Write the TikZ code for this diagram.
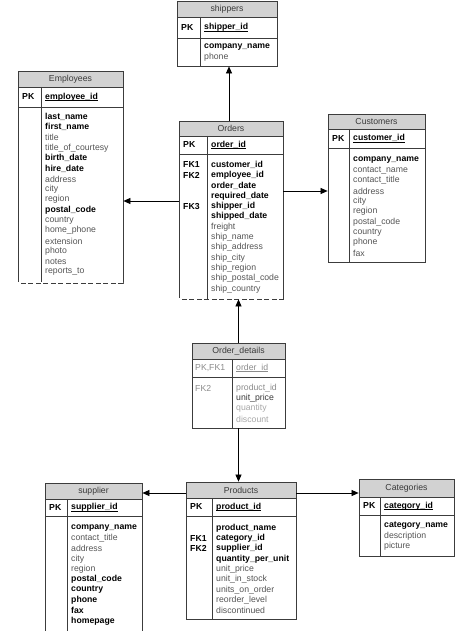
\documentclass[tikz,border=0pt]{standalone}
\usepackage{fontspec}
\setmainfont{Liberation Sans}
\usetikzlibrary{arrows.meta,fit}
\definecolor{hdrfill}{HTML}{D2D2D2}
\definecolor{bordercol}{HTML}{3C3C3C}
\definecolor{txtgray}{HTML}{555555}
\definecolor{hdrtxt}{HTML}{3A3A3A}
\definecolor{odlight}{HTML}{A8A8A8}
\definecolor{odmid}{HTML}{8C8C8C}
\definecolor{oddark}{HTML}{3A3A3A}
\newcommand{\fsz}{\fontsize{8.7}{10}\selectfont}
\newcommand{\pkul}[1]{\underline{\smash{#1}}\vphantom{#1}}
\newcommand{\erTable}[9]{%
  \fill[hdrfill] (#2,#5) rectangle (#4,#6);
  \coordinate (#1-nw) at (#2,#5);
  \coordinate (#1-se) at (#4,#8);
  \node[fit=(#1-nw)(#1-se), inner sep=0pt, draw=bordercol, line width=0.8pt] (#1) {};
  \draw[rule] (#2,#6) -- (#4,#6);
  \draw[rule] (#2,#7) -- (#4,#7);
  \draw[rule] (#3,#6) -- (#3,#8);
  \node[hdr] (#1-h) at ({(#2+#4)/2},{(#5+#6)/2}) {#9};
}
\tikzset{
  hdr/.style={font=\fsz, text=hdrtxt, inner sep=0pt},
  fn/.style={anchor=west, inner sep=0pt, font=\fsz, text=txtgray},
  fb/.style={anchor=west, inner sep=0pt, font=\fsz\bfseries, text=black},
  odl/.style={fn, text=odlight},
  odm/.style={fn, text=odmid},
  odd/.style={fn, text=oddark},
  rule/.style={draw=bordercol, line width=0.8pt},
  conn/.style={draw=black, line width=0.7pt, -{Triangle[length=7pt,width=6pt]}},
  gapdash/.style={draw=white, line width=1.6pt, dash pattern=on 2.5pt off 5pt}
}
\begin{document}
\begin{tikzpicture}[x=1pt,y=-1pt]
\useasboundingbox (0,0) rectangle (474,631);
\clip (0,0) rectangle (474,631);
\fill[white] (0,0) rectangle (474,631);

% shippers
\erTable{shippers}{177}{200}{277}{1}{17}{38}{66}{shippers}
\node[fb] (shippers-k) at (181,27.5) {PK};
\node[fb] (shippers-pk) at (204,27.5) {\pkul{shipper\_id}};
\node[fb] (shippers-f1) at (204,47.5) {company\_name};
\node[fn] (shippers-f2) at (204,57.5) {phone};

% Employees
\erTable{employees}{18}{41}{123}{71}{87}{107}{283}{Employees}
\draw[gapdash] (18,283) -- (123,283);
\node[fb] (employees-k) at (22,97) {PK};
\node[fb] (employees-pk) at (45,97) {\pkul{employee\_id}};
\foreach \t/\s [count=\i] in {last\_name/fb, first\_name/fb, title/fn, title\_of\_courtesy/fn, birth\_date/fb, hire\_date/fb, address/fn, city/fn, region/fn, postal\_code/fb, country/fn, home\_phone/fn, extension/fn, photo/fn, notes/fn, reports\_to/fn}
  \node[\s] (employees-f\i) at (45,{117+(\i-1)*10.33}) {\t};

% Orders
\erTable{orders}{179}{207}{283}{121}{136}{154}{299}{Orders}
\draw[gapdash] (179,299) -- (283,299);
\node[fb] (orders-k) at (183,145) {PK};
\node[fb] (orders-pk) at (211,145) {\pkul{order\_id}};
\node[fb] (orders-k1) at (183,165) {FK1};
\node[fb] (orders-k2) at (183,175.33) {FK2};
\node[fb] (orders-k3) at (183,206.33) {FK3};
\foreach \t/\s [count=\i] in {customer\_id/fb, employee\_id/fb, order\_date/fb, required\_date/fb, shipper\_id/fb, shipped\_date/fb, freight/fn, ship\_name/fn, ship\_address/fn, ship\_city/fn, ship\_region/fn, ship\_postal\_code/fn, ship\_country/fn}
  \node[\s] (orders-f\i) at (211,{165+(\i-1)*10.33}) {\t};

% Customers
\erTable{customers}{328}{349}{425}{114}{129}{148}{262}{Customers}
\node[fb] (customers-k) at (332,138.5) {PK};
\node[fb] (customers-pk) at (353,138.5) {\pkul{customer\_id}};
\foreach \t/\s [count=\i] in {company\_name/fb, contact\_name/fn, contact\_title/fn, address/fn, city/fn, region/fn, postal\_code/fn, country/fn, phone/fn, fax/fn}
  \node[\s] (customers-f\i) at (353,{160+(\i-1)*10.33}) {\t};

% Order_details
\erTable{orderdetails}{192}{232}{285}{343}{359}{377}{428}{Order\_details}
\node[odm] (orderdetails-k) at (195,368) {PK,FK1};
\node[odm] (orderdetails-pk) at (236,368) {\pkul{order\_id}};
\node[odm] (orderdetails-k2) at (195,388) {FK2};
\node[odm] (orderdetails-f1) at (236,388) {product\_id};
\node[odd] (orderdetails-f2) at (236,398.33) {unit\_price};
\node[odl] (orderdetails-f3) at (236,408.66) {quantity};
\node[odl] (orderdetails-f4) at (236,419) {discount};

% supplier
\erTable{supplier}{45}{67}{142}{483}{499}{516}{645}{supplier}
\node[fb] (supplier-k) at (49,507.5) {PK};
\node[fb] (supplier-pk) at (71,507.5) {\pkul{supplier\_id}};
\foreach \t/\s [count=\i] in {company\_name/fb, contact\_title/fn, address/fn, city/fn, region/fn, postal\_code/fb, country/fb, phone/fb, fax/fb, homepage/fb}
  \node[\s] (supplier-f\i) at (71,{528+(\i-1)*10.33}) {\t};

% Products
\erTable{products}{186}{212}{296}{482}{498}{516}{619}{Products}
\node[fb] (products-k) at (190,507) {PK};
\node[fb] (products-pk) at (216,507) {\pkul{product\_id}};
\node[fb] (products-k1) at (190,538.33) {FK1};
\node[fb] (products-k2) at (190,548.66) {FK2};
\foreach \t/\s [count=\i] in {product\_name/fb, category\_id/fb, supplier\_id/fb, quantity\_per\_unit/fb, unit\_price/fn, unit\_in\_stock/fn, units\_on\_order/fn, reorder\_level/fn, discontinued/fn}
  \node[\s] (products-f\i) at (216,{528+(\i-1)*10.33}) {\t};

% Categories
\erTable{categories}{359}{380}{454}{479}{497}{515}{556}{Categories}
\node[fb] (categories-k) at (363,506) {PK};
\node[fb] (categories-pk) at (384,506) {\pkul{category\_id}};
\foreach \t/\s [count=\i] in {category\_name/fb, description/fn, picture/fn}
  \node[\s] (categories-f\i) at (384,{526+(\i-1)*10.33}) {\t};

% connectors
\draw[conn] ([xshift=-2pt]orders.north) -- ([xshift=-2pt]orders.north |- shippers.south);
\draw[conn] ([yshift=9pt]orders.west) -- ([yshift=9pt]orders.west -| employees.east);
\draw[conn] ([yshift=19pt]orders.east) -- ([yshift=19pt]orders.east -| customers.west);
\draw[conn] (orderdetails.north) -- (orderdetails.north |- orders.south);
\draw[conn] (orderdetails.south) -- (orderdetails.south |- products.north);
\draw[conn] ([yshift=-3pt]products-h -| products.west) -- ([yshift=-3pt]products-h -| supplier.east);
\draw[conn] ([yshift=-3pt]products-h -| products.east) -- ([yshift=-3pt]products-h -| categories.west);
\end{tikzpicture}
\end{document}
